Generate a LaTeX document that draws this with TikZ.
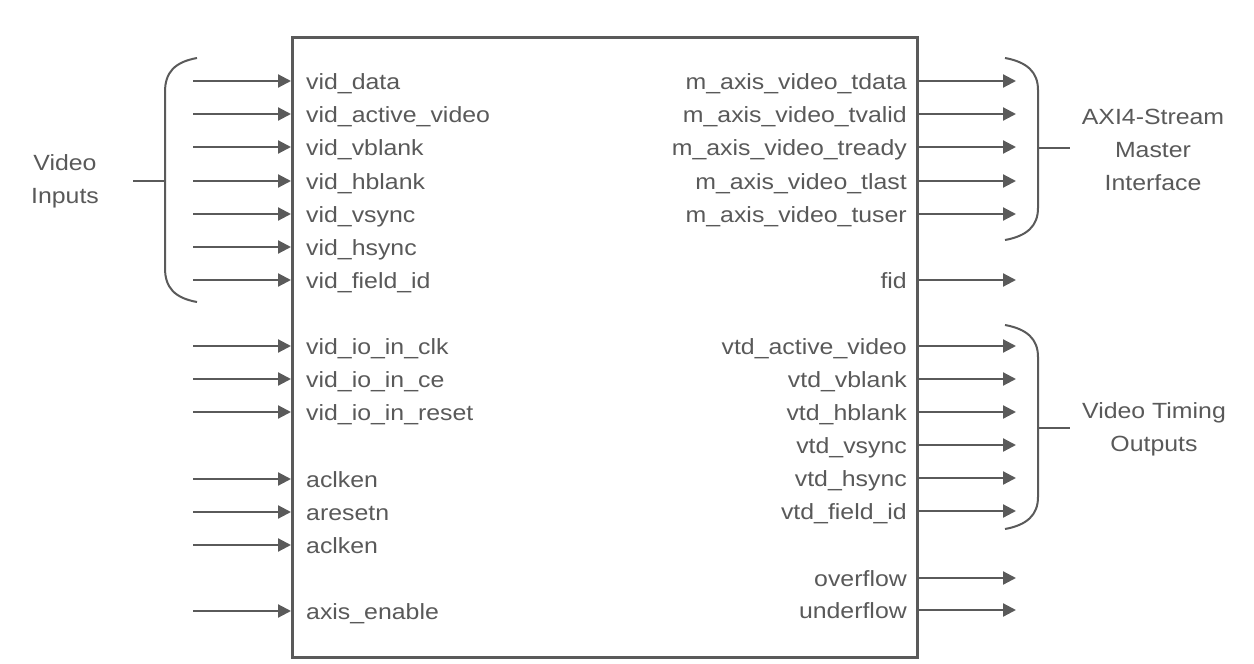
\documentclass[tikz,border=0pt]{standalone}
\usepackage{fontspec}
\setmainfont[FakeStretch=1.13]{Liberation Sans}
\usetikzlibrary{arrows.meta}
\definecolor{gr}{HTML}{5A5A5A}
\definecolor{txt}{HTML}{595959}
\begin{document}
\begin{tikzpicture}[x=1pt,y=-1pt,
  lbl/.style={font=\fontsize{22}{33}\selectfont, text=txt, inner sep=0pt},
  sig/.style={lbl, anchor=base west},
  sigr/.style={lbl, anchor=base east},
  arr/.style={draw=gr, line width=2.2pt, -{Triangle[length=13pt,width=13pt]}},
  brace/.style={draw=gr, line width=2pt}]
\useasboundingbox (0,0) rectangle (1254,664);
\node[draw=gr, line width=2.5pt, minimum width=625pt, minimum height=620pt, anchor=north west, inner sep=0pt] (box) at (291,36) {};
% left inputs
\foreach \y/\t/\n in {81/vid\_data/a,114/vid\_active\_video/b,147/vid\_vblank/c,181/vid\_hblank/d,214/vid\_vsync/e,247/vid\_hsync/f,280/vid\_field\_id/g,346/vid\_io\_in\_clk/h,379/vid\_io\_in\_ce/i,412/vid\_io\_in\_reset/j,479/aclken/k,512/aresetn/l,545/aclken/m,611/axis\_enable/n}{
  \coordinate (L\n) at (193,\y);
  \coordinate (E\n) at (291,\y);
  \node[sig] (S\n) at (306,\y+8) {\t};
  \draw[arr] (L\n) -- (E\n);
}
% right outputs
\foreach \y/\t/\n in {81/m\_axis\_video\_tdata/a,114/m\_axis\_video\_tvalid/b,147/m\_axis\_video\_tready/c,181/m\_axis\_video\_tlast/d,214/m\_axis\_video\_tuser/e,280/fid/f,346/vtd\_active\_video/g,379/vtd\_vblank/h,412/vtd\_hblank/i,445/vtd\_vsync/j,478/vtd\_hsync/k,511/vtd\_field\_id/l,578/overflow/m,610/underflow/n}{
  \coordinate (R\n) at (916,\y);
  \coordinate (T\n) at (1016,\y);
  \node[sigr] (Q\n) at (907,\y+8) {\t};
  \draw[arr] (R\n) -- (T\n);
}
% left brace
\draw[brace] (197,58) .. controls (175,62) and (165,72) .. (165,92) -- (165,268) .. controls (165,288) and (175,298) .. (197,302);
\coordinate (lb) at (165,181);
\coordinate (lt) at (133,181);
\draw[brace] (lb) -- (lt);
\node[lbl, align=center] (vi) at (65,181) {Video\\Inputs};
% right brace top
\draw[brace] (1005,58) .. controls (1027,62) and (1038,72) .. (1038,90) -- (1038,208) .. controls (1038,226) and (1027,236) .. (1005,240);
\coordinate (rb1) at (1038,148);
\coordinate (rt1) at (1070,148);
\draw[brace] (rb1) -- (rt1);
\node[lbl, align=center] (axi) at (1153,150) {AXI4-Stream\\Master\\Interface};
% right brace bottom
\draw[brace] (1005,325) .. controls (1027,329) and (1038,339) .. (1038,357) -- (1038,497) .. controls (1038,515) and (1027,525) .. (1005,529);
\coordinate (rb2) at (1038,428);
\coordinate (rt2) at (1070,428);
\draw[brace] (rb2) -- (rt2);
\node[lbl, align=center] (vto) at (1154,429) {Video Timing\\Outputs};
\end{tikzpicture}
\end{document}
